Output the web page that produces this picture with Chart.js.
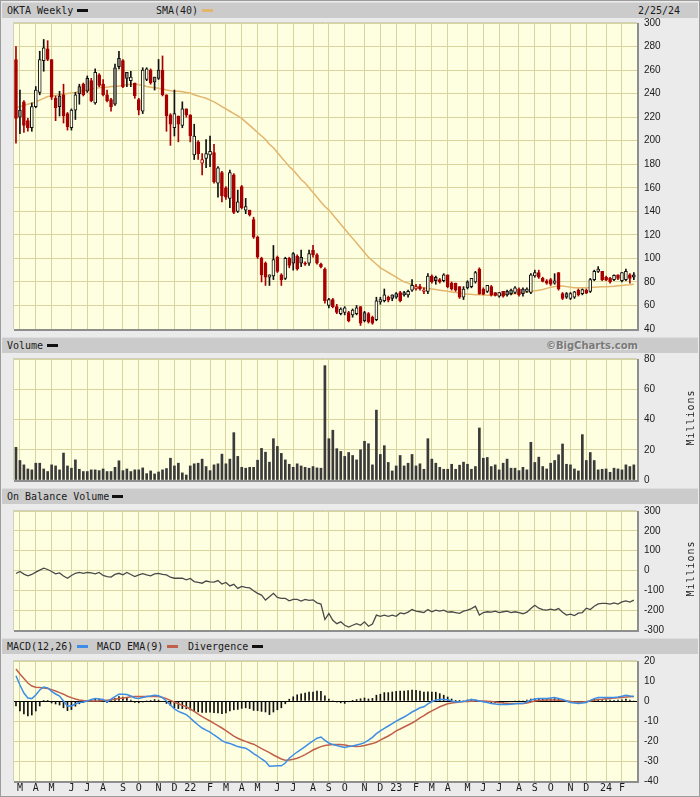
<!DOCTYPE html>
<html>
<head>
<meta charset="utf-8">
<script src="https://cdn.jsdelivr.net/npm/chart.js@4.4.1/dist/chart.umd.min.js"></script>
<style>
  body { margin: 0; width: 700px; height: 797px; background: #ebebeb; position: relative; overflow: hidden; font-family: "DejaVu Sans Mono", monospace; }
  .moldura { position: absolute; left: 0; top: 0; width: 698px; height: 795px; border: 1px solid #9c9c9c; }
  .cabecalho { position: absolute; left: 2px; width: 696px; height: 15px; background: #cbcbcb; border-top: 1px solid #dedede; font-size: 10px; line-height: 15px; color: #1a1a1a; white-space: nowrap; }
  .cabecalho span { position: absolute; top: 0; }
  .cabecalho i { position: absolute; top: 6px; width: 11px; height: 3px; }
  .painel { position: absolute; left: 0; }
  .milhoes { position: absolute; left: 660px; width: 60px; text-align: center; font-size: 10px; letter-spacing: 1px; color: #222; transform: rotate(-90deg); }
  .marca { right: 60px; font-family: "DejaVu Sans", sans-serif; font-weight: bold; font-size: 10px; color: #7a7a7a; text-shadow: 1px 1px 0 #e6e6e6; }
</style>
</head>
<body>
<div class="moldura"></div>

<div class="cabecalho" style="top:2px">
  <span style="left:5px">OKTA Weekly</span><i style="left:75px;background:#111"></i>
  <span style="left:154px">SMA(40)</span><i style="left:200px;background:#e3b56d"></i>
  <span style="left:636px">2/25/24</span>
</div>
<div class="cabecalho" style="top:337px">
  <span style="left:5px">Volume</span><i style="left:45px;background:#111"></i>
  <span class="marca">©BigCharts.com</span>
</div>
<div class="cabecalho" style="top:488px">
  <span style="left:5px">On Balance Volume</span><i style="left:110px;background:#111"></i>
</div>
<div class="cabecalho" style="top:638px">
  <span style="left:5px">MACD(12,26)</span><i style="left:75px;background:#3d8ee6"></i>
  <span style="left:95px">MACD EMA(9)</span><i style="left:165px;background:#c0604a"></i>
  <span style="left:186px">Divergence</span><i style="left:250px;background:#111"></i>
</div>

<canvas id="graficoPreco" class="painel" width="700" height="332" style="top:10px"></canvas>
<canvas id="graficoVolume" class="painel" width="700" height="147" style="top:346px"></canvas>
<canvas id="graficoObv" class="painel" width="700" height="145" style="top:498px"></canvas>
<canvas id="graficoMacd" class="painel" width="700" height="154" style="top:648px"></canvas>

<div class="milhoes" style="top:412px">Millions</div>
<div class="milhoes" style="top:563px">Millions</div>

<script>
// weekly bars, first one = week of 2021-02-22, last = week ending 2/25/24
const open = [269,226,233,217,211,229,241,268,278,269,236,238,239,223,211,226,246,248,253,251,
  232,256,248,239,235,262,270,268,258,251,249,235,225,252,260,254,260,260,239,222,
  211,221,213,227,222,188,199,181,185,188,190,164,173,160,151,171,140,161,141,141,
  133,118,100,96,84,85,101,86,83,100,104,102,101,96,96,107,103,95,91,60,
  65,59,53,54,54,52,53,59,54,53,50,48,63,64,67,69,70,71,71,69,
  73,74,76,72,72,85,84,82,81,86,79,79,76,67,80,76,80,91,74,72,
  76,71,68,72,72,73,71,74,74,72,71,85,88,83,81,82,79,88,70,70,
  66,67,73,70,73,72,82,89,89,84,83,82,86,81,82,86,86];
const high = [280,243,234,219,232,246,276,286,285,269,238,242,248,224,227,241,248,249,255,253,
  261,257,252,243,236,265,276,269,258,259,249,236,262,262,261,254,269,272,239,223,
  243,221,233,227,222,214,200,189,201,204,197,178,174,161,175,172,158,162,151,141,
  135,119,101,97,86,111,102,87,101,101,105,103,107,97,107,111,104,96,92,66,
  66,61,58,59,55,57,60,59,55,54,51,67,67,74,68,69,71,72,72,73,
  82,78,78,75,87,86,85,83,87,86,80,79,76,76,81,83,89,92,75,77,
  77,71,71,72,73,74,76,75,75,75,87,90,90,84,82,83,87,88,71,71,
  71,72,74,74,74,83,90,93,89,85,84,86,86,88,91,87,88];
const low = [198,206,207,208,208,228,239,259,268,235,217,221,215,209,209,218,231,238,241,233,
  231,246,238,233,225,230,261,245,246,246,236,222,223,251,248,243,252,238,208,196,
  204,199,211,220,199,184,184,171,177,178,164,152,148,150,143,138,139,142,138,136,
  117,100,80,77,77,82,88,77,82,92,90,90,93,94,94,101,95,92,62,58,
  58,53,52,52,46,50,52,43,46,45,44,47,61,63,63,64,66,63,68,67,
  72,73,73,70,70,79,78,79,80,75,73,72,66,65,74,75,79,69.5,69,71,
  68,68,67,67,68,69,70,68,68,71,70,84,83,80,78,77,78,73,65,66,
  65,66,68,69,70,71,81,88,81,81,79,81,82,80,81,79,82];
const close = [219,220,213,211,229,243,269,279,269,237,228,229,221,212,226,239,240,239,242,234,
  258,247,239,234,229,231,263,246,253,254,238,226,260,261,249,250,253,239,221,214,
  223,214,227,222,204,204,189,184,189,191,165,177,153,152,173,139,148,143,144,137,
  118,101,86,84,86,99,89,82,100,94,96,91,96,95,104,103,96,93,64,65,
  59,54,57,58,47,56,58,45,47,46,45,64,65,69,64.5,66,67,64,69,72,
  77,76,74,73,85,80,81,80,86,76,74,73,67,74,75,83,88,70,69.5,77,
  69,68.5,71,68,69,70,75,69,70,74,86,88,84,80.5,79,78,81,74,66,67,
  70,71.5,69,73.5,70.5,82,89,91,82,81.5,80,85.5,83,88,89,83,84];
const sma40 = [228,229,230,231,232,233,234.5,236,237.5,238,238.5,
  239,239.5,240,240.5,241,242,242.5,243,244,244.5,
  245,245.5,245.5,246,246,246.5,247,247.5,248,248,
  247.5,247,246,245.5,245,244.5,244,243,242.5,242,
  242,241.5,241,240.5,239,238,237,236,234.5,233,
  231,229,227,225,223,221,219,216,213,210,
  207,204,201,197,194,190,186,182,178,175,
  171,167,164,160,156,152,148,144,141,137,
  133,129,125,121,117,113,109,105,101,98,
  95,92,90,88,86,84,82,80,79,77.5,
  76,75.5,75,74.5,74,73.5,73,72.5,72,71.5,
  71,70.5,70,69.5,69.5,69,69,69,68.7,68.7,
  68.8,69,69.2,69.5,69.8,70,70.5,71,71.5,72,
  72.5,73,73.5,74.5,75.5,76,76.5,76.5,76,75.5,
  75,75,75,75,75.2,75.4,75.6,75.8,76,76.2,
  76.4,76.7,77,77.3,77.6,78];

// millions of shares
const volume = [21.6,12.9,10,7.3,6.7,11.1,11.1,7.3,5.6,10,9.3,6.7,17.8,9.3,7.8,13.3,7.1,5.6,5.6,6.7,
  6.7,6.2,7.3,5.6,5.6,8.4,12.7,6.2,7.3,5.6,6.7,6.7,8,4.2,6,4,5.3,6.7,7.6,14.4,
  9.3,11.1,4.7,3.3,9.3,10.7,11.1,13.8,8.9,6.2,10,10.7,17.1,10.7,13.8,31.3,15.6,8.4,7.8,8.4,
  8.4,13.1,20.9,18.4,11.8,27.3,22.2,17.6,13.3,10.4,8.4,10.7,9.3,8.4,7.8,8.9,8,7.8,75.6,27.3,
  32.9,20.7,18.9,15.6,18.2,16.2,13.3,20,25.6,24,10,46.2,16.9,22.7,11.6,6,9.3,16.2,9.3,11.1,
  16.9,9.3,10.7,7.1,27.3,13.8,11.1,8.4,7.1,7.1,10.4,7.1,9.8,11.8,10.4,7.1,8.9,34.4,14.4,14.9,
  8.9,10,6.7,11.1,13.8,7.8,7.8,6.2,8.4,6.7,24.9,11.6,15.1,8.9,7.3,11.1,12.9,16.7,23.8,10.4,
  10,7.3,6,30,12.9,18.2,12.9,6.7,7.1,7.3,5.1,7.8,7.3,6.7,10,8.9,10];
const obv = [-15,-5,-18,-27,-20,-8,2,12,5,-5,-17,-12,-28,-39,-25,-14,-10,-14,-10,-12,
  -17,-10,-25,-31,-33,-20,-14,-22,-10,-20,-31,-22,-16,-22,-27,-17,-15,-20,-22,-34,
  -39,-39,-39,-47,-40,-56,-60,-64,-53,-57,-59,-51,-68,-60,-78,-70,-90,-80,-85,-88,
  -102,-115,-124,-149,-132,-115,-136,-141,-141,-153,-146,-146,-154,-146,-151,-148,-163,-169,-247,-217,
  -251,-268,-259,-276,-285,-276,-268,-276,-259,-281,-270,-225,-231,-225,-231,-225,-231,-214,-218,-210,
  -197,-205,-208,-212,-197,-208,-200,-205,-200,-210,-208,-212,-216,-205,-200,-192,-180,-225,-212,-208,
  -210,-205,-212,-208,-205,-212,-208,-212,-218,-210,-192,-175,-190,-197,-200,-195,-200,-192,-210,-225,
  -220,-227,-215,-212,-190,-197,-180,-168,-166,-166,-169,-163,-169,-158,-153,-159,-149];

const macd = [12.6,8,4,1.5,1.2,3,5.5,7,6.5,4.8,3.5,2.5,0,-2.5,-2.5,-1.5,-0.8,-0.5,0,0.8,
  1.2,1,0.8,-0.5,1,2.2,3.4,3.4,3.2,2.5,1.5,1.3,1.7,2.2,2.5,2.9,2.6,1.7,0,-2,
  -4,-5.2,-6,-6.8,-8.5,-10.3,-12,-13.5,-14.6,-15.6,-17,-18.3,-19.8,-20.8,-21.2,-22,-22.8,-23.2,-23.6,-24.8,
  -26.3,-27.5,-29,-30.3,-32.6,-32.5,-32.4,-32.4,-31,-28.6,-27,-25.5,-24.2,-22.8,-21.3,-20,-18.6,-18,-19.7,-21,
  -21.8,-22.3,-22.7,-23.2,-22.8,-22.5,-22,-21.5,-20.8,-19.6,-18.2,-16.3,-14.9,-13.7,-12.5,-11.3,-10.1,-9,-8,-6.8,
  -5.5,-4.5,-3.4,-2.9,-1.4,-0.4,0.5,0.8,0.8,0.6,0,-0.5,-0.4,-0.3,0.3,0.8,0.5,0,-0.4,-0.8,
  -1.2,-1.5,-1.7,-1.7,-1.7,-1.6,-1.4,-1.3,-1.3,-0.5,0.5,1,1.3,1.3,1.3,1.5,1.7,1.3,0.8,0,
  -0.8,-1,-1.2,-1,-0.8,0.3,1.2,1.7,1.7,1.7,1.7,1.7,2,2.4,2.9,2.5,2.2];
const macdSignal = [16,13.5,11.2,9,7.5,6.9,6.7,6.5,6.3,5.7,5,4.2,3.4,2.4,1.7,1,0.5,0.2,0,0,
  0,0,0.2,0.4,0.6,0.9,1.2,1.5,1.8,2.1,2.2,2.2,2.2,2.2,2.2,2.2,2.2,1.8,1.2,0.3,
  -0.6,-1.4,-2.2,-2.9,-4,-5.2,-6.6,-7.8,-8.9,-10,-11.2,-12.3,-13.5,-14.8,-16.2,-17.6,-18.6,-19.5,-20.2,-21,
  -21.6,-22.7,-23.8,-24.8,-25.8,-27,-28,-29,-29.6,-29.5,-29.1,-28.6,-27.8,-26.8,-25.7,-24.5,-23.6,-22.8,-22.3,-22,
  -21.8,-21.8,-21.8,-22,-22.4,-22.6,-22.7,-22.6,-22.3,-21.8,-21.3,-20.6,-19.6,-18.5,-17.5,-16.3,-14.9,-14,-13,-12,
  -11,-9.8,-8.4,-7.3,-6,-4.9,-3.9,-2.9,-2.1,-1.4,-1,-0.7,-0.5,-0.3,-0.2,-0.1,0,0,0,-0.1,
  -0.3,-0.5,-0.8,-1,-1.2,-1.3,-1.3,-1.3,-1.3,-1,-0.5,0,0.3,0.4,0.5,0.5,0.5,0.4,0.3,0.1,
  -0.2,-0.5,-0.5,-0.5,-0.3,0,0.4,0.8,0.9,1.1,1.3,1.5,1.6,1.8,2,2.1,2.2];
const divergence = [-2.5,-5,-6.5,-7.5,-7,-5,-2.5,0.3,0.2,-1,-1.5,-2,-3.4,-4.8,-4.3,-2.6,-1.4,-0.8,0,0.7,
  1.2,1,0.5,-0.8,0.4,1.3,2.2,1.9,1.4,0.4,-0.7,-0.9,-0.5,0,0.3,0.7,0.4,-0.2,-1.2,-2.3,
  -3.4,-3.8,-3.8,-3.9,-4.5,-5.1,-5.4,-5.7,-5.7,-5.6,-5.8,-6,-6.3,-6,-5,-4.4,-4.2,-3.7,-3.4,-3.8,
  -4.7,-4.8,-5.2,-5.5,-6.8,-5.5,-4.4,-3.4,-1.4,0.9,2.1,3.1,3.6,4,4.4,4.5,5,4.8,2.6,1,
  0,-0.5,-0.9,-1.2,-0.4,0.1,0.7,1.1,1.5,1,1.3,2.9,3.4,4.2,4.2,4.5,4.8,5,5,5.2,
  5.5,5.3,5,4.4,4.6,4.5,4.4,3.7,2.9,2,1,0.2,0.1,0,0.5,0.9,0.5,0,-0.4,-0.7,
  -0.9,-1,-0.9,-0.7,-0.5,-0.3,-0.1,0,0,0.5,1,1,1,0.9,0.8,1,1.2,0.9,0.5,-0.1,
  -0.6,-0.5,-0.7,-0.5,-0.5,0.3,0.8,0.9,0.8,0.6,0.4,0.2,0.4,0.6,0.9,0.4,0];

// week index that holds the 1st of each month, and its label
const monthWeeks = [1,5,9,14,18,22,27,31,36,40,44,49,53,57,61,66,70,75,79,83,88,92,96,101,105,109,114,118,122,127,131,135,140,144,149,153];
const monthLabels = ["M","A","M","J","J","A","S","O","N","D","22","F","M","A","M","J","J","A","S","O","N","D","23","F","M","A","M","J","J","A","S","O","N","D","24","F"];

const GRADE = "#d8d49e";
const FUNDO = "#fefee0";
const VERMELHO = "#a80000";

// fundo amarelo e moldura do painel
const fundoPainel = {
  id: "fundoPainel",
  beforeDraw(chart) {
    const { ctx, chartArea: a } = chart;
    ctx.save();
    ctx.fillStyle = FUNDO;
    ctx.fillRect(a.left, a.top, a.right - a.left, a.bottom - a.top);
    ctx.restore();
  },
  afterDraw(chart) {
    const { ctx, chartArea: a } = chart;
    ctx.save();
    ctx.strokeStyle = "#cfcfbc";
    ctx.lineWidth = 1;
    ctx.beginPath();
    ctx.moveTo(a.left - 0.5, a.bottom);
    ctx.lineTo(a.left - 0.5, a.top - 0.5);
    ctx.lineTo(a.right, a.top - 0.5);
    ctx.stroke();
    ctx.strokeStyle = "#8e8e8e";
    ctx.lineWidth = 2;
    ctx.beginPath();
    ctx.moveTo(a.left, a.bottom + 1);
    ctx.lineTo(a.right + 1, a.bottom + 1);
    ctx.lineTo(a.right + 1, a.top);
    ctx.stroke();
    ctx.restore();
  }
};

function eixoX(comRotulos) {
  return {
    type: "linear",
    min: -0.5,
    max: 156.8,
    offset: false,
    grid: { color: GRADE, drawTicks: false, offset: false },
    border: { display: false },
    afterBuildTicks: scale => { scale.ticks = monthWeeks.map(v => ({ value: v })); },
    afterFit: scale => { scale.height = comRotulos ? 16 : 0; },
    ticks: {
      display: comRotulos,
      autoSkip: false,
      maxRotation: 0,
      padding: 1,
      color: "#1a1a1a",
      font: { family: "DejaVu Sans Mono", size: 10 },
      callback: (v, i) => monthLabels[i]
    }
  };
}

function eixoY(min, max, passo, corGrade) {
  return {
    position: "right",
    min: min,
    max: max,
    grid: { color: corGrade || GRADE, drawTicks: false },
    border: { display: false },
    afterFit: scale => { scale.width = 63; },
    ticks: { stepSize: passo, padding: 7, color: "#1a1a1a", font: { family: "Liberation Sans", size: 10 } }
  };
}

function opcoes(escalas, padBaixo) {
  return {
    responsive: false,
    animation: false,
    events: [],
    layout: { padding: { left: 14, right: 0, top: 10, bottom: padBaixo } },
    plugins: { legend: { display: false }, tooltip: { enabled: false } },
    scales: escalas
  };
}

// hollow = close above open, red = close below previous close
function estiloCandle(i) {
  const sobe = close[i] >= open[i];
  const anterior = i === 0 ? open[i] : close[i - 1];
  const vermelho = close[i] < anterior;
  if (sobe) return { fill: FUNDO, line: vermelho ? VERMELHO : "#111" };
  if (vermelho) return { fill: VERMELHO, line: VERMELHO };
  return { fill: "#8a8a84", line: "#111" };
}

function renderizarPreco() {
  const estilos = close.map((c, i) => estiloCandle(i));
  new Chart(document.getElementById("graficoPreco").getContext("2d"), {
    type: "bar",
    data: {
      datasets: [{
        data: close.map((c, i) => ({ x: i, y: [Math.min(open[i], c), Math.max(open[i], c)] })),
        order: 0,
        grouped: false,
        barThickness: 3,
        minBarLength: 1,
        borderSkipped: false,
        borderWidth: 1,
        backgroundColor: estilos.map(e => e.fill),
        borderColor: estilos.map(e => e.line)
      }, {
        data: close.map((c, i) => ({ x: i, y: [low[i], high[i]] })),
        order: 1,
        grouped: false,
        barThickness: 1,
        borderWidth: 0,
        backgroundColor: estilos.map(e => e.line)
      }, {
        type: "line",
        data: sma40.map((v, i) => ({ x: i, y: v })),
        order: 2,
        borderColor: "#e3b56d",
        borderWidth: 1.5,
        pointRadius: 0
      }]
    },
    options: opcoes({ x: eixoX(false), y: eixoY(40, 300, 20) }, 10),
    plugins: [fundoPainel]
  });
}

function renderizarVolume() {
  new Chart(document.getElementById("graficoVolume").getContext("2d"), {
    type: "bar",
    data: {
      datasets: [{
        data: volume.map((v, i) => ({ x: i, y: v })),
        barThickness: 2,
        backgroundColor: "#3a3a3a"
      }]
    },
    options: opcoes({ x: eixoX(false), y: eixoY(0, 80, 20) }, 10),
    plugins: [fundoPainel]
  });
}

function renderizarObv() {
  new Chart(document.getElementById("graficoObv").getContext("2d"), {
    type: "line",
    data: {
      datasets: [{
        data: obv.map((v, i) => ({ x: i, y: v })),
        borderColor: "#4a4a4a",
        borderWidth: 1.3,
        pointRadius: 0
      }]
    },
    options: opcoes({ x: eixoX(false), y: eixoY(-300, 300, 100) }, 10),
    plugins: [fundoPainel]
  });
}

function renderizarMacd() {
  const corGrade = ctx => ctx.tick && ctx.tick.value === 0 ? "#000" : GRADE;
  new Chart(document.getElementById("graficoMacd").getContext("2d"), {
    type: "bar",
    data: {
      datasets: [{
        type: "line",
        data: macd.map((v, i) => ({ x: i, y: v })),
        order: 0,
        borderColor: "#3d8ee6",
        borderWidth: 1.5,
        pointRadius: 0
      }, {
        type: "line",
        data: macdSignal.map((v, i) => ({ x: i, y: v })),
        order: 1,
        borderColor: "#c0604a",
        borderWidth: 1.5,
        pointRadius: 0
      }, {
        data: divergence.map((v, i) => ({ x: i, y: v })),
        order: 2,
        barThickness: 1,
        backgroundColor: "#111"
      }]
    },
    options: opcoes({ x: eixoX(true), y: eixoY(-40, 20, 10, corGrade) }, 5),
    plugins: [fundoPainel]
  });
}

window.addEventListener("DOMContentLoaded", () => {
  renderizarPreco();
  renderizarVolume();
  renderizarObv();
  renderizarMacd();
});
</script>
</body>
</html>
